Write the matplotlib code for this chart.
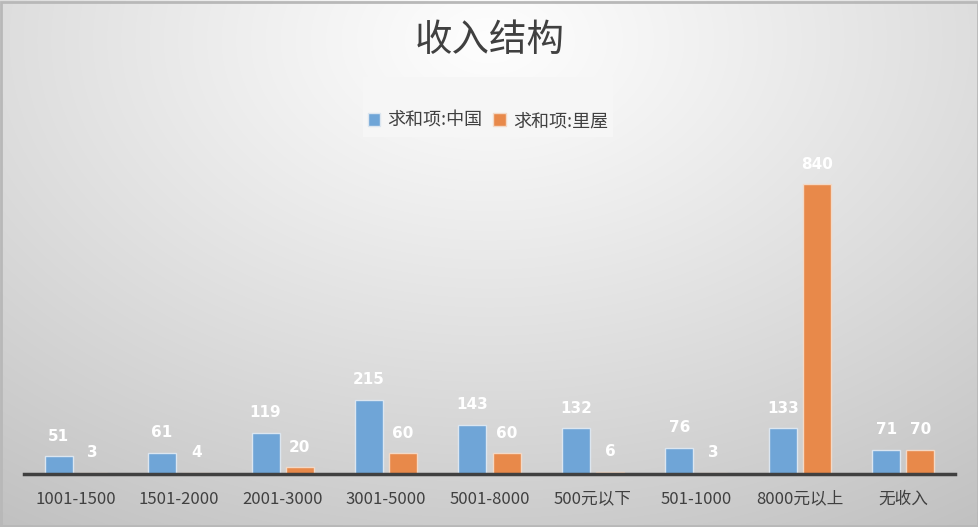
import numpy as np
import matplotlib
matplotlib.use("Agg")
import matplotlib.pyplot as plt
from matplotlib.patches import Rectangle

plt.rcParams['font.family'] = ['Noto Sans CJK SC', 'DejaVu Sans']

categories = ['1001-1500', '1501-2000', '2001-3000', '3001-5000', '5001-8000',
              '500元以下', '501-1000', '8000元以上', '无收入']
china = [51, 61, 119, 215, 143, 132, 76, 133, 71]
liwu = [3, 4, 20, 60, 60, 6, 3, 840, 70]
series_names = ['求和项:中国', '求和项:里屋']

W, H = 979, 527
fig = plt.figure(figsize=(W / 100, H / 100), dpi=100)

# radial gradient background
bg = fig.add_axes([0, 0, 1, 1], zorder=-10)
yy, xx = np.mgrid[0:H, 0:W]
cx, cy = W * 0.5, 40
d = np.sqrt(((xx - cx) / W) ** 2 + ((yy - cy) / (H * 1.25)) ** 2)
d = d / d.max()
v = 0.995 - 0.24 * d ** 1.1
img = np.dstack([v, v, v])
bg.imshow(img, extent=[0, 1, 0, 1], aspect='auto', origin='upper')
bg.set_xlim(0, 1); bg.set_ylim(0, 1)
bg.axis('off')
bg.add_patch(Rectangle((0.001, 0.001), 0.998, 0.996, fill=False,
                       edgecolor='#b8b8b8', lw=2, transform=bg.transAxes))

ax = fig.add_axes([24 / W, 53 / H, (955 - 24) / W, 0.589])
ax.patch.set_alpha(0)
x = np.arange(len(categories))
w = 0.27
off = 0.165
b1 = ax.bar(x - off, china, w, color='#6FA5D7', edgecolor='#dce6f0', linewidth=1,
            label=series_names[0])
b2 = ax.bar(x + off, liwu, w, color='#E8894A', edgecolor='#f3d9c6', linewidth=1,
            label=series_names[1])
for bars, vals in ((b1, china), (b2, liwu)):
    for r, val in zip(bars, vals):
        ax.annotate(str(val), (r.get_x() + r.get_width() / 2, r.get_height()),
                    xytext=(0, 9), textcoords='offset points', ha='center',
                    va='bottom', color='white', fontsize=11, fontweight='bold',
                    family=['DejaVu Sans'])
ax.set_xlim(-0.5, len(categories) - 0.5)
ax.set_ylim(0, 900)
ax.set_yticks([])
for s in ('left', 'right', 'top'):
    ax.spines[s].set_visible(False)
ax.spines['bottom'].set_color('#404040')
ax.spines['bottom'].set_linewidth(2.5)
ax.set_xticks(x)
ax.set_xticklabels(categories, fontsize=12, color='#404040')
ax.tick_params(axis='x', length=0, pad=12)

fig.text(0.5, 1 - 40 / H, '收入结构', ha='center', va='center', fontsize=27,
         color='#404040')

# legend box
bg.add_patch(Rectangle((363 / W, 1 - 137 / H), 250 / W, 60 / H, facecolor='#f6f6f6',
                       edgecolor='none', transform=bg.transAxes, zorder=1))
leg = fig.legend(handles=[b1, b2], labels=series_names, loc='center',
                 bbox_to_anchor=(488 / W, 1 - 121 / H), ncol=2, frameon=False,
                 fontsize=13, handlelength=0.7, handleheight=0.7,
                 handletextpad=0.4, columnspacing=0.6)
for t in leg.get_texts():
    t.set_color('#404040')

fig.savefig('out.png', dpi=100)
